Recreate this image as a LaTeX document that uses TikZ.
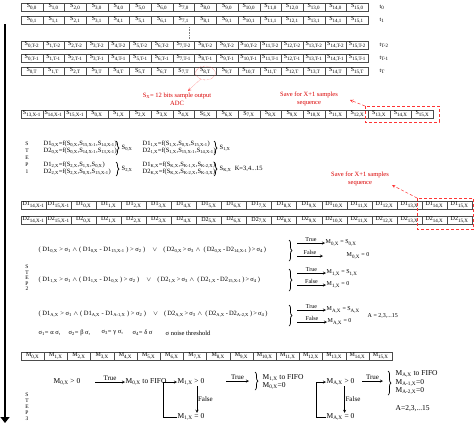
\documentclass[tikz,border=0pt]{standalone}
\usepackage{fontspec}
\setmainfont{Liberation Serif}
\usetikzlibrary{arrows.meta}
\usetikzlibrary{decorations.pathreplacing}

\newcommand{\lo}[1]{\textsubscript{#1}}

\begin{document}
\begin{tikzpicture}[x=1pt,y=-1pt,>=stealth,
		cell/.style={draw=black!70,line width=0.4pt,minimum height=8pt,inner sep=0pt,font=\fontsize{6}{6}\selectfont},
		txt/.style={inner sep=0.5pt,anchor=west,font=\fontsize{6}{7}\selectfont},
		frm/.style={inner sep=0.5pt,anchor=west,font=\fontsize{6.5}{7}\selectfont},
		big/.style={inner sep=0.5pt,anchor=west,font=\fontsize{7.5}{8}\selectfont},
		lbl/.style={inner sep=0.5pt,font=\fontsize{5.5}{6}\selectfont},
		tf/.style={inner sep=0.8pt,font=\fontsize{6}{6}\selectfont},
		tfb/.style={inner sep=0.8pt,font=\fontsize{7}{7}\selectfont},
		note/.style={red!85!black,inner sep=0.5pt,align=center,font=\fontsize{6.5}{8}\selectfont},
		brc/.style={decorate,decoration={brace,amplitude=3pt},line width=0.7pt},
		red dash/.style={red!80,densely dashed,line width=0.5pt}]
	\useasboundingbox (0,0) rectangle (474,426);
	\def\cwa{21.7}
	\def\cwd{25.06}
	\def\cwm{23.2}

	% time axis
	\draw[line width=2.6pt,-{Triangle[length=6pt,width=9pt]}] (5,24) -- (5,423);

	% ADC samples
	\foreach \s/\y/\n in {0/7/ra,1/20/rb,T-2/45/rc,T-1/58/rd,T/71/re}{
		\foreach \i in {0,...,15}
			\node[cell,minimum width=\cwa pt] (\n\i) at ({21+\cwa*(\i+0.5)},\y) {S\lo{\i,\s}};
		\node[txt] (t\n) at (379,\y) {t\lo{\s}};
	}
	\draw[black!50,densely dotted,line width=0.6pt] (189,27) -- (189,39);
	\draw[red!80,densely dotted] ([yshift=-2pt]re8) ellipse (10 and 7);
	\coordinate (adcs) at (201,79);
	\coordinate (adce) at (188,91);
	\node[note] (adc) at (177,99) {S\lo{X}= 12 bits sample output\\ADC};
	\draw[red!80,densely dotted,->] (adcs) -- (adce);

	\foreach \i in {0,1,2}{
		\pgfmathtruncatemacro\k{\i+13}
		\node[cell,minimum width=\cwa pt] (sx\i) at ({21+\cwa*(\i+0.5)},114) {S\lo{\k,X-1}};
	}
	\foreach \i in {0,...,15}{
		\pgfmathtruncatemacro\k{\i+3}
		\node[cell,minimum width=\cwa pt] (sx\k) at ({21+\cwa*(\k+0.5)},114) {S\lo{\i,X}};
	}
	\draw[red dash] (365,106) rectangle (439,122);
	\coordinate (sva) at (365,106);
	\coordinate (svb) at (350,100);
	\node[note] (save1) at (309,99) {Save for X+1 samples\\sequence};
	\draw[red dash,->] (sva) -- (svb);

	% step 1
	\foreach \c [count=\k] in {S,T,E,P,1}
		\node[lbl] (sa\k) at (27,{137+7*\k}) {\c};
	\node[frm] (fa1) at (43,144) {D1\lo{0,X}=f(S\lo{0,X},S\lo{15,X-1},S\lo{14,X-1})};
	\node[frm] (fa2) at (43,151) {D2\lo{0,X}=f(S\lo{0,X},S\lo{14,X-1},S\lo{13,X-1})};
	\draw[brc] (116,141) -- (116,155);
	\node[frm] (ya) at (121,148) {S\lo{0,X}};
	\node[frm] (fb1) at (142,144) {D1\lo{1,X}=f(S\lo{1,X},S\lo{0,X},S\lo{15,X-1})};
	\node[frm] (fb2) at (142,151) {D2\lo{1,X}=f(S\lo{1,X},S\lo{15,X-1},S\lo{14,X-1})};
	\draw[brc] (214,141) -- (214,155);
	\node[frm] (yb) at (219,148) {S\lo{1,X}};
	\node[frm] (fc1) at (43,165) {D1\lo{2,X}=f(S\lo{2,X},S\lo{1,X},S\lo{0,X})};
	\node[frm] (fc2) at (43,172) {D2\lo{2,X}=f(S\lo{2,X},S\lo{0,X},S\lo{15,X-1})};
	\draw[brc] (116,162) -- (116,176);
	\node[frm] (yc) at (121,169) {S\lo{2,X}};
	\node[frm] (fd1) at (142,165) {D1\lo{K,X}=f(S\lo{K,X},S\lo{K-1,X},S\lo{K-2,X})};
	\node[frm] (fd2) at (142,172) {D2\lo{K,X}=f(S\lo{K,X},S\lo{K-2,X},S\lo{K-3,X})};
	\draw[brc] (214,162) -- (214,176);
	\node[frm] (yd) at (219,169) {S\lo{K,X}\ \ K=3,4...15};

	\foreach \d/\y in {1/205,2/220}{
		\foreach \i in {0,1}{
			\pgfmathtruncatemacro\k{\i+14}
			\node[cell,minimum width=\cwd pt] (d\d-\i) at ({21+\cwd*(\i+0.5)},\y) {D\d\lo{\k,X-1}};
		}
		\foreach \i in {0,...,15}{
			\pgfmathtruncatemacro\k{\i+2}
			\node[cell,minimum width=\cwd pt] (d\d-\k) at ({21+\cwd*(\k+0.5)},\y) {D\d\lo{\i,X}};
		}
	}
	\draw[red dash] (417,198) rectangle (473.5,229);
	\coordinate (svc) at (417,198);
	\coordinate (svd) at (392,185);
	\node[note] (save2) at (360,179) {Save for X+1 samples\\sequence};
	\draw[red dash,->] (svc) -- (svd);

	% step 2
	\foreach \c [count=\k] in {S,T,E,P,2}
		\node[lbl] (sb\k) at (27,{261.5+5.5*\k}) {\c};
	\node[frm] (ca) at (38,250) {( D1\lo{0,X} > σ\lo{1} $\wedge$ ( D1\lo{0,X} - D1\lo{15,X-1} ) > σ\lo{2} )\hspace{7pt}$\vee$\hspace{6pt}(\,D2\lo{0,X}\,>\,σ\lo{3} $\wedge$\hspace{3pt}(\,D2\lo{0,X}\,-\,D2\lo{14,X-1}\,)\,>\,σ\lo{4}\,)};
	\draw[brc] (289,240) -- (289,261);
	\coordinate (ta) at (297,243);
	\coordinate (fa) at (297,256);
	\coordinate (fae) at (323,256);
	\node[txt] (ma1) at (325,243) {M\lo{0,X} = S\lo{0,X}};
	\node[txt] (ma0) at (346,256) {M\lo{0,X} = 0};
	\draw[->] (ta) -- node[tf,above]{True} (ma1.west);
	\draw[->] (fa) -- node[tf,above]{False} (fae);

	\node[frm] (cb) at (38,280) {( D1\lo{1,X} > σ\lo{1} $\wedge$ ( D1\lo{1,X} - D1\lo{0,X} ) > σ\lo{2} )\hspace{7pt}$\vee$\hspace{6pt}(\,D2\lo{1,X}\,>\,σ\lo{3} $\wedge$\hspace{3pt}(\,D2\lo{1,X}\,-\,D2\lo{15,X-1}\,)\,>\,σ\lo{4}\,)};
	\draw[brc] (289,269) -- (289,291);
	\coordinate (tb) at (297,273);
	\coordinate (fb) at (297,285);
	\node[txt] (mb1) at (326,273) {M\lo{1,X} = S\lo{1,X}};
	\node[txt] (mb0) at (326,285) {M\lo{1,X} = 0};
	\draw[->] (tb) -- node[tf,above]{True} (mb1.west);
	\draw[->] (fb) -- node[tf,above]{False} (mb0.west);

	\node[frm] (cc) at (38,314) {( D1\lo{A,X} > σ\lo{1} $\wedge$ ( D1\lo{A,X} - D1\lo{A-1,X} ) > σ\lo{2} )\hspace{7pt}$\vee$\hspace{6pt}(\,D2\lo{A,X}\,>\,σ\lo{3} $\wedge$\hspace{3pt}(\,D2\lo{A,X}\,-\,D2\lo{A-2,X}\,)\,>\,σ\lo{4}\,)};
	\draw[brc] (289,305) -- (289,326);
	\coordinate (tc) at (297,310);
	\coordinate (fc) at (297,322);
	\node[txt] (mc1) at (326,310) {M\lo{A,X} = S\lo{A,X}};
	\node[txt] (mc0) at (327,322) {M\lo{A,X} = 0};
	\draw[->] (tc) -- node[tf,above]{True} (mc1.west);
	\draw[->] (fc) -- node[tf,above]{False} (mc0.west);
	\node[txt] (ra) at (367,316) {A = 2,3,...15};

	\foreach \x/\t [count=\k] in {38/{σ\lo{1}= α σ,},68/{σ\lo{2}= β σ,},101/{σ\lo{3}= γ σ,},132/{σ\lo{4}= δ σ},165/{σ noise threshold}}
		\node[frm] (sg\k) at (\x,333) {\t};

	\foreach \i in {0,...,15}
		\node[cell,minimum width=\cwm pt] (m\i) at ({21+\cwm*(\i+0.5)},356) {M\lo{\i,X}};

	% step 3
	\foreach \c [count=\k] in {S,T,E,P,3}
		\node[lbl] (sc\k) at (27,{389+6*\k}) {\c};
	\node[big] (c0) at (53,382) {M\lo{0,X} > 0};
	\node[big] (c0f) at (125,382) {M\lo{0,X} to FIFO};
	\coordinate (t0) at (95,382);
	\draw[->] (t0) -- node[tfb,above]{True} (c0f.west);

	\node[big] (g1) at (177,382) {M\lo{1,X} > 0};
	\node[big] (z1) at (177,417) {M\lo{1,X} = 0};
	\draw[->] (z1.west) -- ++(-14,0) |- (g1.west);
	\draw[->] ([xshift=6pt]g1.south) -- ([xshift=6pt]g1.south |- z1.north) node[tfb,midway,right]{False};
	\coordinate (t1s) at (226,381);
	\coordinate (t1e) at (249,381);
	\draw[->] (t1s) -- node[tfb,above]{True} (t1e);
	\draw[brc] (255,372) -- (255,390);
	\node[big] (q1) at (262,378) {M\lo{1,X} to FIFO};
	\node[big] (q0) at (262,386) {M\lo{0,X}=0};

	\node[big] (g2) at (326,382) {M\lo{A,X} > 0};
	\node[big] (z2) at (326,417) {M\lo{A,X} = 0};
	\draw[->] (z2.west) -- ++(-10,0) |- (g2.west);
	\draw[->] ([xshift=4pt]g2.south) -- ([xshift=4pt]g2.south |- z2.north) node[tfb,midway,right]{False};
	\coordinate (t2s) at (362,381);
	\coordinate (t2e) at (383,381);
	\draw[->] (t2s) -- node[tfb,above]{True} (t2e);
	\draw[brc] (388,371) -- (388,395);
	\node[big] (p1) at (395,374) {M\lo{A,X} to FIFO};
	\node[big] (p2) at (395,383) {M\lo{A-1,X}=0};
	\node[big] (p3) at (395,391) {M\lo{A-2,X}=0};
	\node[big] (pa) at (395,409) {A=2,3,...15};
\end{tikzpicture}
\end{document}
